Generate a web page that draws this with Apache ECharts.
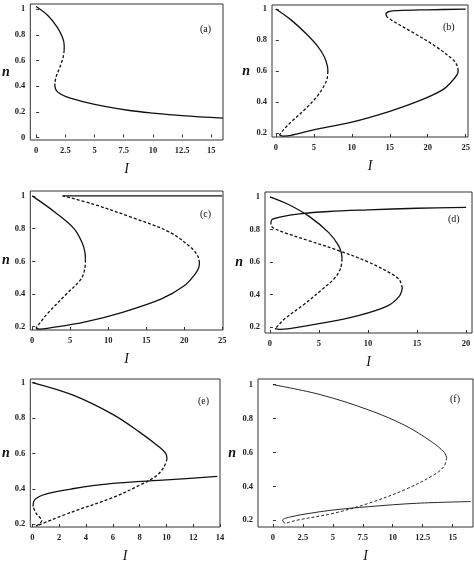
<!DOCTYPE html>
<html><head><meta charset="utf-8">
<script src="https://cdn.jsdelivr.net/npm/echarts@6/dist/echarts.min.js"></script>
<style>html,body{margin:0;padding:0;background:#fff}#c{width:474px;height:564px}</style>
</head><body><div id="c"></div>
<script>
// Panel (a)
const a1 = [[0,1.02],[1,0.95],[1.8,0.86],[2.25,0.78],[2.4,0.72],[2.4,0.68]];
const a2 = [[2.4,0.68],[2.3,0.62],[2.0,0.54],[1.7,0.47],[1.6,0.42]];
const a3 = [[1.6,0.42],[1.65,0.38],[1.9,0.35],[2.5,0.32],[4,0.28],[6,0.24],[8,0.21],[10,0.19],[12.5,0.17],[16,0.15]];
// Panel (b)
const b1 = [[0,1],[2,0.93],[4,0.84],[5.5,0.76],[6.4,0.69],[6.8,0.63],[6.85,0.6]];
const b2 = [[6.85,0.6],[6.75,0.55],[6.3,0.5],[5.5,0.44],[4,0.36],[2,0.27],[1,0.22],[0.6,0.195],[0.5,0.185]];
const b3 = [[0.5,0.185],[1,0.18],[2,0.185],[5,0.22],[10,0.27],[15,0.34],[19,0.41],[22,0.48],[23.3,0.54],[23.9,0.58],[24,0.6]];
const b4 = [[24,0.6],[23.9,0.63],[23.4,0.67],[21,0.76],[18,0.85],[15.5,0.92],[14.6,0.95]];
const b5 = [[14.6,0.95],[14.5,0.97],[15,0.985],[16,0.99],[20,0.995],[25,1.0]];
// Panel (c)
const c1 = [[0,1],[3,0.9],[5.5,0.8],[6.6,0.71],[6.95,0.65],[7,0.61]];
const c2 = [[7,0.61],[6.9,0.55],[6.4,0.49],[4.5,0.4],[2,0.28],[0.8,0.21],[0.5,0.19]];
const c3 = [[0.5,0.19],[1,0.185],[2,0.19],[7,0.23],[12,0.29],[17,0.37],[20,0.45],[21.4,0.52],[21.9,0.56],[22,0.59]];
const c4 = [[22,0.59],[21.8,0.63],[21,0.68],[18,0.78],[13,0.87],[8,0.95],[4,1.0]];
const c5 = [[4,1.0],[25,1.0]];
// Panel (d)
const d1 = [[0,1],[2,0.95],[4,0.88],[6,0.78],[7,0.7],[7.3,0.65],[7.35,0.62]];
const d2 = [[7.35,0.62],[7.2,0.56],[6.6,0.5],[5.5,0.44],[3.5,0.34],[1.5,0.25],[0.7,0.2],[0.5,0.19]];
const d3 = [[0.5,0.19],[1,0.185],[2,0.19],[5,0.22],[9,0.27],[12,0.33],[13.2,0.39],[13.5,0.44]];
const d4 = [[13.5,0.44],[13.2,0.49],[12.3,0.53],[10,0.6],[7,0.67],[4,0.73],[1.5,0.78],[0.3,0.81],[0.1,0.83]];
const d5 = [[0.1,0.83],[0.2,0.86],[1,0.875],[3,0.895],[6,0.91],[10,0.92],[15,0.93],[20,0.935]];
// Panel (e)
const e1 = [[0,1],[3,0.93],[6,0.82],[8,0.72],[9.4,0.64],[9.95,0.6],[10.05,0.57]];
const e2 = [[10.05,0.57],[9.8,0.52],[9.2,0.47],[8,0.42],[6,0.35],[3,0.27],[0.3,0.19]];
const e3 = [[0.3,0.19],[0.7,0.22],[0.3,0.26],[0.05,0.3]];
const e4 = [[0.05,0.3],[0.2,0.34],[1,0.37],[3,0.4],[6,0.43],[10,0.45],[13.8,0.47]];
// Panel (f)
const f1 = [[0,1],[4,0.94],[8,0.85],[11,0.76],[13.3,0.66],[14.3,0.6],[14.5,0.57]];
const f2 = [[14.5,0.57],[14.3,0.52],[13.5,0.47],[11,0.38],[8,0.3],[5,0.24],[2,0.2],[1,0.18]];
const f3 = [[1,0.18],[0.8,0.2],[1.5,0.22],[3,0.24],[5,0.26],[8,0.28],[12,0.3],[16.5,0.31]];

const xTicksA = [0,2.5,5,7.5,10,12.5,15];
const xTicks5 = [0,5,10,15,20,25];
const xTicks2 = [0,2,4,6,8,10,12,14];
const xTicksF = [0,2.5,5,7.5,10,12.5,15];
const yTicksA = [0,0.2,0.4,0.6,0.8,1];
const yTicks = [0.2,0.4,0.6,0.8,1];
const panelLabels = ['(a)','(b)','(c)','(d)','(e)','(f)'];

const panels = [
 {g:[27,4,196,136], x:[-0.5,16,xTicksA], y:[-0.02,1.04,yTicksA], segs:[[a1,0],[a2,1],[a3,0]], lab:[200,30]},
 {g:[272,5,196,132], x:[-0.5,25.3,xTicks5], y:[0.174,1.026,yTicks], segs:[[b1,0],[b2,1],[b3,0],[b4,1],[b5,0]], lab:[443,28]},
 {g:[27,191,196,139], x:[-0.25,25.1,xTicks5], y:[0.18,1.03,yTicks], segs:[[c1,0],[c2,1],[c3,0],[c4,1],[c5,0]], lab:[200,215]},
 {g:[265,192,207,141], x:[-0.5,20.6,xTicks5.slice(0,5)], y:[0.163,1.03,yTicks], segs:[[d1,0],[d2,1],[d3,0],[d4,1],[d5,0]], lab:[448,220]},
 {g:[26,379,194,155], x:[-0.15,14,xTicks2], y:[0.184,1.02,yTicks], segs:[[e1,0],[e2,1],[e3,1],[e4,0]], lab:[198,402]},
 {g:[258,379,215,159], x:[-1.25,16.7,xTicksF], y:[0.16,1.033,yTicks], segs:[[f1,0],[f2,1],[f3,0]], lab:[450,400], thin:true}
];
const font = 'Liberation Serif';
const grid=[],xAxis=[],yAxis=[],series=[],graphic=[];
panels.forEach((p,i)=>{
  grid.push({left:p.g[0],top:p.g[1],width:p.g[2],height:p.g[3],show:true,borderColor:'#333',borderWidth:1,backgroundColor:'#fff'});
  xAxis.push({type:'value',gridIndex:i,min:p.x[0],max:p.x[1],splitLine:{show:false},
    axisLine:{show:false},axisTick:{inside:true,length:3,customValues:p.x[2],lineStyle:{color:'#333'}},
    axisLabel:{customValues:p.x[2],fontFamily:font,fontSize:8.5,fontWeight:'bold',color:'#222',margin:6},
    name:'I',nameLocation:'middle',nameGap:22,nameTextStyle:{fontFamily:font,fontStyle:'italic',fontSize:14,color:'#111'}});
  yAxis.push({type:'value',gridIndex:i,min:p.y[0],max:p.y[1],splitLine:{show:false},
    axisLine:{show:false},axisTick:{inside:true,length:3,customValues:p.y[2],lineStyle:{color:'#333'}},
    axisLabel:{customValues:p.y[2],fontFamily:font,fontSize:8.5,fontWeight:'bold',color:'#222',margin:5},
    name:'n',nameLocation:'middle',nameRotate:0,nameGap:i%2?22:17,nameTextStyle:{fontFamily:font,fontStyle:'italic',fontWeight:'bold',fontSize:14,color:'#111'}});
  p.segs.forEach(s=>series.push({type:'line',xAxisIndex:i,yAxisIndex:i,data:s[0],smooth:0.35,showSymbol:false,silent:true,
    lineStyle:{color:'#111',width:p.thin?0.9:1.3,type:s[1]?[3,2]:'solid'}}));
  graphic.push({type:'text',left:p.lab[0],top:p.lab[1]-6,style:{text:panelLabels[i],font:'10px "Liberation Serif"',fill:'#111'}});
});
const chart = echarts.init(document.getElementById('c'),null,{renderer:'canvas'});
chart.setOption({animation:false,grid,xAxis,yAxis,series,graphic});
</script></body></html>
